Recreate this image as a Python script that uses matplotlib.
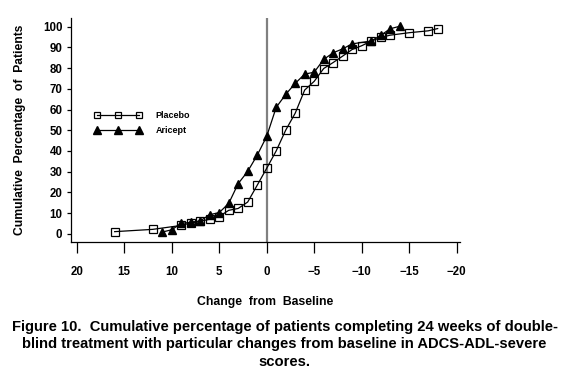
import matplotlib
matplotlib.use("Agg")
import matplotlib.pyplot as plt

plt.rcParams['font.family'] = ['Liberation Sans', 'DejaVu Sans']

placebo_x = [16, 12, 9, 8, 7, 6, 5, 4, 3, 2, 1, 0, -1, -2, -3, -4, -5, -6, -7, -8, -9, -10, -11, -12, -13, -15, -17, -18]
placebo_y = [1.0, 2.1, 4.0, 5.2, 6.0, 7.0, 8.3, 11.3, 12.2, 15.3, 23.4, 31.6, 40.0, 50.0, 58.2, 69.4, 73.6, 79.8, 82.7, 85.8, 89.0, 90.8, 93.0, 94.8, 95.9, 97.1, 98.0, 99.1]

aricept_x = [11, 10, 9, 8, 7, 6, 5, 4, 3, 2, 1, 0, -1, -2, -3, -4, -5, -6, -7, -8, -9, -11, -12, -13, -14]
aricept_y = [0.8, 1.9, 5.0, 5.5, 6.2, 9.2, 10.2, 14.6, 24.2, 30.1, 37.9, 47.0, 61.0, 67.3, 72.6, 77.1, 78.0, 84.2, 87.4, 89.3, 91.7, 93.1, 95.8, 99.0, 100.2]

xticks = [20, 15, 10, 5, 0, -5, -10, -15, -20]
xticklabels = ['20', '15', '10', '5', '0', '\u22125', '\u221210', '\u221215', '\u221220']
yticks = [0, 10, 20, 30, 40, 50, 60, 70, 80, 90, 100]

caption = ("Figure 10.  Cumulative percentage of patients completing 24 weeks of double-\n"
           "blind treatment with particular changes from baseline in ADCS-ADL-severe\n"
           "scores.")

fig = plt.figure(figsize=(5.69, 3.84), dpi=100)
ax = fig.add_axes([70.7 / 569, 1 - 242 / 384, (460 - 70.7) / 569, (242 - 18) / 384])

ax.axvline(0, color='#808080', lw=1.6, zorder=1)

ax.plot(placebo_x, placebo_y, color='black', lw=0.9, marker='s', markersize=5.5,
        markerfacecolor='none', markeredgecolor='black', markeredgewidth=0.9,
        label='Placebo', zorder=3)
ax.plot(aricept_x, aricept_y, color='black', lw=0.9, marker='^', markersize=6,
        markerfacecolor='black', markeredgecolor='black',
        label='Aricept', zorder=4)

ax.set_xlim(20.63, -20.35)
ax.set_ylim(-4.0, 104.2)
ax.set_xticks(xticks)
ax.set_xticklabels(xticklabels)
ax.set_yticks(yticks)

for s in ['top', 'right']:
    ax.spines[s].set_visible(False)
for s in ['left', 'bottom']:
    ax.spines[s].set_linewidth(0.9)

ax.tick_params(axis='x', direction='out', length=8, width=0.9, pad=9, labelsize=8.3)
ax.tick_params(axis='y', direction='out', length=3, width=0.9, pad=3, labelsize=8.3)
for lab in ax.get_xticklabels() + ax.get_yticklabels():
    lab.set_fontweight('bold')

ax.set_xlabel('Change  from  Baseline', fontsize=8.8, fontweight='bold', labelpad=13)
ax.set_ylabel('Cumulative  Percentage  of  Patients', fontsize=8.7, fontweight='bold', labelpad=12)

leg = ax.legend(loc='upper left', bbox_to_anchor=(0.04, 0.62), frameon=False,
                numpoints=3, handlelength=5.2, markerscale=0.85,
                prop={'weight': 'bold', 'size': 6.5},
                labelspacing=0.6, handletextpad=1.6)

fig.text(0.5, 1 - 320 / 384, caption, ha='center', va='top', fontsize=10.6,
         fontweight='bold', linespacing=1.3)

fig.savefig('out.png', dpi=100)
